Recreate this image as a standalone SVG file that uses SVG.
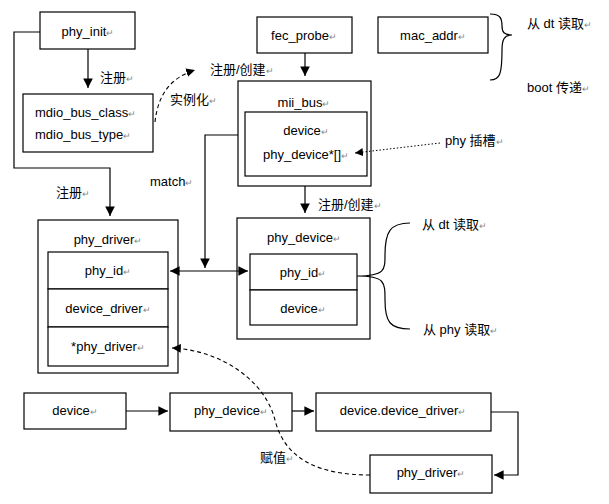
<svg xmlns="http://www.w3.org/2000/svg" width="609" height="504" viewBox="0 0 609 504">
<style>
text{font-family:"Liberation Sans","Noto Sans CJK SC",sans-serif;font-size:13px;fill:#000}
.c{text-anchor:middle}
.b{fill:#fff;stroke:#000;stroke-width:1.2}
.l{fill:none;stroke:#000;stroke-width:1.2}
.d{fill:none;stroke:#000;stroke-width:1.1;stroke-dasharray:4 3}
.p{fill:#888;font-size:9px}
</style>
<defs>
<marker id="a" viewBox="0 0 10 10" refX="10" refY="5" markerWidth="8" markerHeight="8" orient="auto-start-reverse"><path d="M0,0L10,5L0,10z" fill="#000"/></marker>
</defs>
<g id="phy_init"><rect class="b" x="40" y="12" width="95" height="37"/><text class="c" x="88" y="36">phy_init<tspan class="p">↵</tspan></text></g>
<g id="mdio"><rect class="b" x="23" y="94" width="130" height="58"/><text x="35" y="117">mdio_bus_class<tspan class="p">↵</tspan></text><text x="35" y="139">mdio_bus_type<tspan class="p">↵</tspan></text></g>
<g id="fec_probe"><rect class="b" x="257" y="17" width="95" height="36"/><text class="c" x="304" y="40">fec_probe<tspan class="p">↵</tspan></text></g>
<g id="mac_addr"><rect class="b" x="378" y="17" width="110" height="36"/><text class="c" x="433" y="40">mac_addr<tspan class="p">↵</tspan></text></g>
<g id="mii_bus"><rect class="b" x="238" y="81" width="133" height="105"/><text class="c" x="304" y="107">mii_bus<tspan class="p">↵</tspan></text>
<rect class="b" x="245" y="112" width="122" height="64"/><text class="c" x="306" y="135">device<tspan class="p">↵</tspan></text><text class="c" x="306" y="159">phy_device*[]<tspan class="p">↵</tspan></text></g>
<g id="phy_driver"><rect class="b" x="38" y="220" width="140" height="153"/><text class="c" x="108" y="244">phy_driver<tspan class="p">↵</tspan></text>
<rect class="b" x="48" y="252" width="120" height="37"/><text class="c" x="108" y="275">phy_id<tspan class="p">↵</tspan></text>
<rect class="b" x="48" y="289" width="120" height="38"/><text class="c" x="108" y="313">device_driver<tspan class="p">↵</tspan></text>
<rect class="b" x="48" y="327" width="120" height="39"/><text class="c" x="108" y="351">*phy_driver<tspan class="p">↵</tspan></text></g>
<g id="phy_device"><rect class="b" x="237" y="218" width="133" height="121"/><text class="c" x="304" y="242">phy_device<tspan class="p">↵</tspan></text>
<rect class="b" x="250" y="254" width="107" height="36"/><text class="c" x="303" y="277">phy_id<tspan class="p">↵</tspan></text>
<rect class="b" x="250" y="290" width="107" height="35"/><text class="c" x="303" y="313">device<tspan class="p">↵</tspan></text></g>
<g id="b_device"><rect class="b" x="24" y="393" width="102" height="36"/><text class="c" x="75" y="415">device<tspan class="p">↵</tspan></text></g>
<g id="b_phy_device"><rect class="b" x="170" y="393" width="122" height="38"/><text class="c" x="231" y="415">phy_device<tspan class="p">↵</tspan></text></g>
<g id="b_ddrv"><rect class="b" x="316" y="393" width="175" height="38"/><text class="c" x="403" y="415">device.device_driver<tspan class="p">↵</tspan></text></g>
<g id="b_phy_driver"><rect class="b" x="370" y="455" width="122" height="38"/><text class="c" x="431" y="477">phy_driver<tspan class="p">↵</tspan></text></g>
<g id="connectors">
<path class="l" d="M88,49V88" marker-end="url(#a)"/>
<path class="l" d="M40,32H14V168H110V216" marker-end="url(#a)"/>
<path class="d" d="M155,122C158,95 170,78 195,70" marker-end="url(#a)"/>
<path class="l" d="M305,53V76" marker-end="url(#a)"/>
<path fill="none" stroke="#000" stroke-dasharray="1.5 2" d="M440,143L355,153" marker-end="url(#a)"/>
<path class="l" d="M238,135H205V268" marker-end="url(#a)"/>
<path class="l" d="M170,271H248" marker-start="url(#a)" marker-end="url(#a)"/>
<path class="l" d="M305,186V213" marker-end="url(#a)"/>
<path class="l" d="M357,276C385,276 385,270 385,255C385,232 390,223 410,223M357,276C385,276 385,282 385,300C385,322 390,329 410,329"/>
<path class="l" d="M490,14C500,14 502,18 502,26C502,32 504,35 512,35M490,80C500,80 502,74 502,50C502,40 504,35 512,35"/>
<path class="l" d="M126,411H168" marker-end="url(#a)"/>
<path class="l" d="M292,411H314" marker-end="url(#a)"/>
<path class="l" d="M491,412H518V475H494" marker-end="url(#a)"/>
<path class="d" d="M370,475C320,475 285,460 275,420C265,380 220,350 172,348" marker-end="url(#a)"/>
</g>
<g id="labels">
<text x="100" y="82">注册<tspan class="p">↵</tspan></text>
<text x="170" y="104">实例化<tspan class="p">↵</tspan></text>
<text x="210" y="74">注册/创建<tspan class="p">↵</tspan></text>
<text x="56" y="197">注册<tspan class="p">↵</tspan></text>
<text x="150" y="186">match<tspan class="p">↵</tspan></text>
<text x="318" y="209">注册/创建<tspan class="p">↵</tspan></text>
<text x="445" y="145">phy 插槽<tspan class="p">↵</tspan></text>
<text x="527" y="28">从 dt 读取<tspan class="p">↵</tspan></text>
<text x="527" y="92">boot 传递<tspan class="p">↵</tspan></text>
<text x="422" y="229">从 dt 读取<tspan class="p">↵</tspan></text>
<text x="423" y="334">从 phy 读取<tspan class="p">↵</tspan></text>
<text x="260" y="462">赋值<tspan class="p">↵</tspan></text>
</g>
</svg>
